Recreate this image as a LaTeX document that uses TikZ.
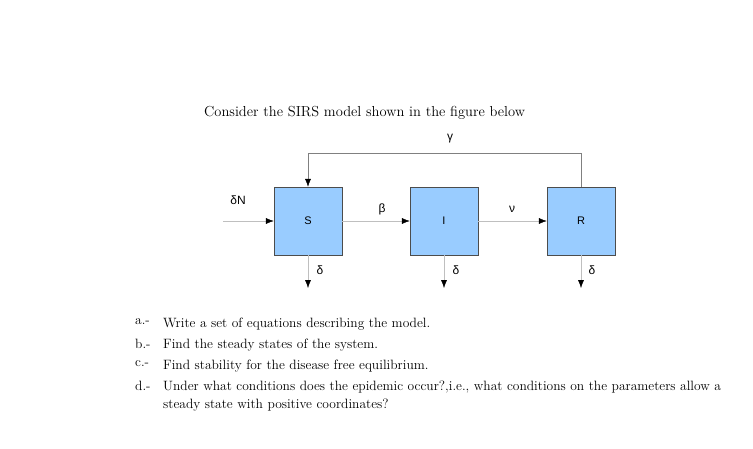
\documentclass[tikz,border=0pt]{standalone}
\usepackage{fontspec}
\newfontfamily\diagfont{Liberation Sans}
\usetikzlibrary{positioning,arrows.meta}
\definecolor{boxblue}{RGB}{153,204,255}
\tikzset{
  comp/.style={draw=black!70, fill=boxblue, minimum size=68pt, inner sep=0pt, font=\diagfont\fontsize{11}{13}\selectfont},
  flow/.style={draw=black!25, -{Latex[length=8pt,width=6pt,black]}},
  rate/.style={font=\diagfont\fontsize{12}{14}\selectfont},
  tag/.style={anchor=north west, inner sep=0pt, font=\fontsize{13.5}{18}\selectfont},
  item/.style={anchor=north west, text width=570pt, align=left, inner sep=0pt, font=\fontsize{13.5}{18}\selectfont}
}
\begin{document}
\begin{tikzpicture}[x=1pt,y=-1pt]
\useasboundingbox (0,0) rectangle (753,448);
\node[anchor=west, inner sep=0pt, font=\fontsize{14.5}{16}\selectfont] (title) at (204,113) {Consider the SIRS model shown in the figure below};
% compartments
\node[comp] (S) at (308,221) {S};
\node[comp] (I) at (444,221) {I};
\node[comp] (R) at (581,221) {R};
\coordinate (in) at (223,221);
\coordinate (top) at (581,153);
\coordinate (topS) at (308,153);
\coordinate (dS) at (308,288);
\coordinate (dI) at (444,288);
\coordinate (dR) at (581,288);
\draw[flow] (in) -- (S);
\draw[flow] (S) -- (I);
\draw[flow] (I) -- (R);
\draw[flow, draw=black!50] (R.north) -- (top) -- (topS) -- (S.north);
\draw[flow] (S.south) -- (dS);
\draw[flow] (I.south) -- (dI);
\draw[flow] (R.south) -- (dR);
% rates
\node[rate] (gamma) at (450,139) {γ};
\node[rate] (dN) at (238,200) {δN};
\node[rate] (beta) at (382,209) {β};
\node[rate] (nu) at (512,209) {ν};
\node[rate] (dSl) at (320,270) {δ};
\node[rate] (dIl) at (456,270) {δ};
\node[rate] (dRl) at (592,270) {δ};
% questions
\node[tag] (ta) at (135,318) {a.-};
\node[item] (qa) at (163,318) {Write a set of equations describing the model.};
\node[tag] (tb) at (135,339) {b.-};
\node[item] (qb) at (163,339) {Find the steady states of the system.};
\node[tag] (tc) at (135,360) {c.-};
\node[item] (qc) at (163,360) {Find stability for the disease free equilibrium.};
\node[tag] (td) at (135,381) {d.-};
\node[item] (qd) at (163,381) {Under what conditions does the epidemic occur?,i.e., what conditions on the parameters allow a steady state with positive coordinates?};
\end{tikzpicture}
\end{document}
